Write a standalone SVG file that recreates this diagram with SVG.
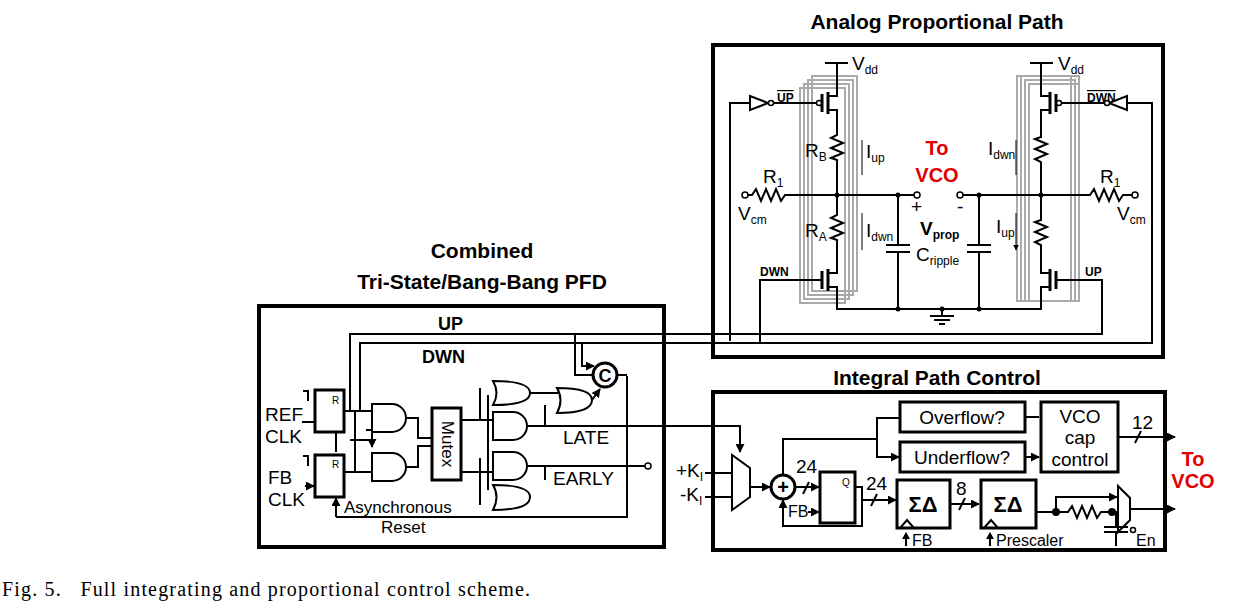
<svg xmlns="http://www.w3.org/2000/svg" width="1233" height="601" viewBox="0 0 1233 601">
<style>
text{font-family:"Liberation Sans",Arial,sans-serif;fill:#000}
.t{font-size:21px;font-weight:bold;text-anchor:middle}
.l{font-size:19px}
.s{font-size:12px}
.b{font-weight:bold}
.red{fill:#e00000;font-weight:bold;font-size:20px;text-anchor:middle}
.w{fill:none;stroke:#000;stroke-width:2}
.box{fill:none;stroke:#000;stroke-width:4}
.g{fill:#fff;stroke:#000;stroke-width:3}
.gr{fill:none;stroke:#aaa;stroke-width:2}
</style>
<defs>
<marker id="a" viewBox="0 0 10 10" refX="9" refY="5" markerWidth="9" markerHeight="9" markerUnits="userSpaceOnUse" orient="auto"><path d="M0,0L10,5L0,10z"/></marker>
<marker id="c" viewBox="0 0 10 10" refX="9" refY="5" markerWidth="6" markerHeight="6" markerUnits="userSpaceOnUse" orient="auto"><path d="M0,0L10,5L0,10z"/></marker>
</defs>
<rect width="1233" height="601" fill="#fff"/>

<g id="titles">
<text class="t" x="937" y="29">Analog Proportional Path</text>
<text class="t" x="482" y="258">Combined</text>
<text class="t" x="482" y="289">Tri-State/Bang-Bang PFD</text>
<text class="t" x="937" y="385">Integral Path Control</text>
<text x="2" y="596" xml:space="preserve" textLength="528" style="font-family:'Liberation Serif',serif;font-size:20px">Fig. 5.   Full integrating and proportional control scheme.</text>
</g>

<g id="analog">
<rect class="box" x="713" y="45" width="450" height="312"/>
<rect class="gr" x="800" y="88" width="45" height="215"/>
<rect class="gr" x="804" y="84" width="45" height="215"/>
<rect class="gr" x="808" y="80" width="45" height="215"/>
<rect class="gr" x="812" y="76" width="45" height="215"/>
<rect class="gr" x="1021" y="76" width="50" height="225"/>
<rect class="gr" x="1025" y="80" width="50" height="221"/>
<rect class="gr" x="1029" y="84" width="50" height="217"/>
<rect class="gr" x="1017" y="76" width="62" height="225"/>
<path class="w" d="M825,63H848M837,63V96H828M828,110H837V135l-6,3 12,5 -12,5 12,5 -12,5 6,2V215l-6,3 12,5 -12,5 12,5 -12,5 6,2V273H828M828,287H837V309H1041V287H1050M1050,273H1041V245l-6,-3 12,-5 -12,-5 12,-5 -12,-5 6,-2V195V162l-6,-3 12,-5 -12,-5 12,-5 -12,-5 6,-2V110H1050M1050,96H1041V63M1030,63H1053"/>
<path d="M828,92V114M822,94V112M828,269V291M822,271V289M1050,92V114M1056,94V112M1050,269V291M1056,271V289" stroke="#000" stroke-width="3"/>
<circle cx="819" cy="103" r="2.5" fill="#fff" stroke="#000" stroke-width="1.5"/>
<circle cx="1059" cy="103" r="2.5" fill="#fff" stroke="#000" stroke-width="1.5"/>
<path class="w" d="M817,103H773M750,96V110L768,103Z M730,341V103H750"/>
<circle cx="771" cy="103" r="2.5" fill="#fff" stroke="#000" stroke-width="1.5"/>
<path class="w" d="M822,280H760V344M1062,103H1105M1127,96V110L1109,103Z M1127,103H1152V344M1056,280H1102V335"/>
<circle cx="1107" cy="103" r="2.5" fill="#fff" stroke="#000" stroke-width="1.5"/>
<path class="w" d="M748,195l4,0 4,-6 5,12 5,-12 5,12 5,-12 5,12 4,-6H915M898,195V245M886,245H910M886,252H910M898,252V309M962,195H1041M979,195V245M967,245H991M967,252H991M979,252V309"/>
<path class="w" d="M1041,195H1090l4,-6 5,12 5,-12 5,12 5,-12 5,12 4,-6H1132"/>
<circle cx="745" cy="195" r="3" fill="#fff" stroke="#000" stroke-width="1.5"/>
<circle cx="917" cy="195" r="3" fill="#fff" stroke="#000" stroke-width="1.5"/>
<circle cx="960" cy="195" r="3" fill="#fff" stroke="#000" stroke-width="1.5"/>
<circle cx="1135" cy="195" r="3" fill="#fff" stroke="#000" stroke-width="1.5"/>
<circle cx="837" cy="195" r="2.5"/><circle cx="898" cy="195" r="2.5"/><circle cx="979" cy="195" r="2.5"/><circle cx="1041" cy="195" r="2.5"/>
<circle cx="898" cy="309" r="2.5"/><circle cx="979" cy="309" r="2.5"/><circle cx="942" cy="309" r="2.5"/>
<path class="w" d="M942,309V315M930,316H954M934,320H950M939,324H945"/>
<path d="M862,140V175M862,213V250M1016,140V175M1016,213V250" stroke="#000" stroke-width="1" marker-end="url(#c)"/>
<text class="l" x="852" y="70">V<tspan class="s" dy="4">dd</tspan></text>
<text class="l" x="1058" y="70">V<tspan class="s" dy="4">dd</tspan></text>
<text x="777" y="102" style="font-size:12px;font-weight:bold;text-decoration:overline">UP</text>
<text x="1087" y="102" style="font-size:12px;font-weight:bold;text-decoration:overline">DWN</text>
<text class="l" x="805" y="157">R<tspan class="s" dy="4">B</tspan></text>
<text class="l" x="805" y="237">R<tspan class="s" dy="4">A</tspan></text>
<text class="l" x="866" y="158">I<tspan class="s" dy="4">up</tspan></text>
<text class="l" x="866" y="237">I<tspan class="s" dy="4">dwn</tspan></text>
<text class="l" x="988" y="155">I<tspan class="s" dy="4">dwn</tspan></text>
<text class="l" x="996" y="233">I<tspan class="s" dy="4">up</tspan></text>
<text class="l" x="763" y="183">R<tspan class="s" dy="4">1</tspan></text>
<text class="l" x="1100" y="183">R<tspan class="s" dy="4">1</tspan></text>
<text class="l" x="738" y="220">V<tspan class="s" dy="4">cm</tspan></text>
<text class="l" x="1117" y="220">V<tspan class="s" dy="4">cm</tspan></text>
<text class="red" x="937" y="155">To</text>
<text class="red" x="937" y="182">VCO</text>
<text class="l" x="911" y="213">+</text>
<text class="l" x="957" y="213">-</text>
<text class="l b" x="920" y="235">V<tspan class="s b" dy="4">prop</tspan></text>
<text class="l" x="916" y="261">C<tspan class="s" dy="4">ripple</tspan></text>
<text class="s b" x="760" y="276">DWN</text>
<text class="s b" x="1085" y="276">UP</text>
</g>

<g id="pfd">
<rect class="box" x="259" y="306" width="405" height="241"/>
<rect class="g" x="315" y="390" width="29" height="42"/>
<rect class="g" x="315" y="455" width="29" height="42"/>
<text x="332" y="404" style="font-size:10px">R</text>
<text x="332" y="468" style="font-size:10px">R</text>
<text class="l" x="265" y="421">REF</text><text class="l" x="265" y="443">CLK</text>
<text class="l" x="268" y="484">FB</text><text class="l" x="268" y="506">CLK</text>
<path class="w" d="M303,391H308V401M303,456H308V466"/>
<path class="w" d="M302,422H314M305,486H314" marker-end="url(#a)"/>
<path class="w" d="M336,452V433M336,517V498" marker-end="url(#a)"/>
<path class="w" d="M336,517H627V376"/>
<path class="w" d="M350,411V334H1102M360,411V343H1152"/>
<path class="w" d="M344,411H372M344,472H372M355,411V472M350,440H372"/>
<path class="w" d="M372,404H392a14,14 0 0 1 0,28H372Z M372,453H392a14,14 0 0 1 0,28H372Z" fill="#fff"/>
<path class="w" d="M406,418H418V438H431M406,467H418V446H431M366,430H372V447" marker-end="url(#a)"/>
<rect class="g" x="432" y="408" width="29" height="72"/>
<text x="446" y="444" transform="rotate(90 446 444)" style="font-size:17px;text-anchor:middle;dominant-baseline:middle">Mutex</text>
<path class="w" d="M461,420H493M461,472H493M480,388V420M480,458V505M488,395V470M488,490V440"/>
<path class="w" d="M493,381Q530,381 530,393Q530,405 493,405Q500,393 493,381Z M493,485Q530,485 530,497Q530,510 493,510Q500,497 493,485Z M557,388Q592,388 592,400Q592,413 557,413Q564,400 557,388Z" fill="#fff"/>
<path class="w" d="M493,412H513a14,14 0 0 1 0,28H493Z M493,452H513a14,14 0 0 1 0,28H493Z" fill="#fff"/>
<path class="w" d="M530,393H558M527,426H740V447M527,466H648M545,405V426M545,466V480"/>
<path class="w" d="M592,400L600,389" marker-end="url(#a)"/>
<path class="w" d="M575,334V375H592M582,343V366H594" marker-end="url(#a)"/>
<circle cx="605" cy="375" r="12" class="g"/>
<text x="605" y="382" style="font-size:18px;font-weight:bold;text-anchor:middle">C</text>
<path class="w" d="M617,375H627"/>
<circle cx="648" cy="466" r="3" fill="#fff" stroke="#000" stroke-width="1.5"/>
<text class="l" x="563" y="444">LATE</text>
<text class="l" x="553" y="485">EARLY</text>
<text x="344" y="513" style="font-size:17px">Asynchronous</text>
<text x="381" y="533" style="font-size:17px">Reset</text>
<text class="b" x="438" y="330" style="font-size:18px">UP</text>
<text class="b" x="422" y="363" style="font-size:18px">DWN</text>
</g>

<g id="integral">
<rect class="box" x="713" y="392" width="452" height="158"/>
<path class="w" d="M732,455V510L750,497V468Z" fill="#fff" stroke-width="3"/>
<path class="w" d="M740,432V452" marker-end="url(#a)"/>
<path class="w" d="M705,473H731M705,497H731M750,487H770" marker-end="url(#a)"/>
<text class="l" x="676" y="477">+K<tspan class="s" dy="4">I</tspan></text>
<text class="l" x="680" y="501">-K<tspan class="s" dy="4">I</tspan></text>
<circle cx="783" cy="487" r="12" class="g"/>
<text x="783" y="494" style="font-size:20px;font-weight:bold;text-anchor:middle">+</text>
<path class="w" d="M795,487H819" marker-end="url(#a)"/>
<path class="w" d="M783,475V439H877V418H899M877,439V457H899" marker-end="url(#a)"/>
<path class="w" d="M803,494l6,-12"/>
<text class="l" x="796" y="473">24</text>
<rect class="g" x="820" y="472" width="35" height="51"/>
<text x="842" y="486" style="font-size:10px">Q</text>
<text x="788" y="517" style="font-size:16px">FB</text>
<path class="w" d="M808,512H819" marker-end="url(#a)"/>
<path class="w" d="M855,487H862V500H896" marker-end="url(#a)"/>
<path class="w" d="M862,500V526H783V500" marker-end="url(#a)"/>
<path class="w" d="M871,506l6,-12"/>
<text class="l" x="866" y="490">24</text>
<rect class="g" x="900" y="402" width="125" height="30"/>
<rect class="g" x="900" y="442" width="125" height="30"/>
<text class="l" x="962" y="424" text-anchor="middle">Overflow?</text>
<text class="l" x="962" y="464" text-anchor="middle">Underflow?</text>
<path class="w" d="M1025,417H1039M1025,457H1039" marker-end="url(#a)"/>
<rect class="g" x="1041" y="402" width="77" height="70"/>
<text class="l" x="1080" y="423" text-anchor="middle">VCO</text>
<text class="l" x="1080" y="444" text-anchor="middle">cap</text>
<text class="l" x="1080" y="466" text-anchor="middle">control</text>
<path class="w" d="M1118,437H1175" marker-end="url(#a)"/>
<path class="w" d="M1135,443l6,-12"/>
<text class="l" x="1132" y="429">12</text>
<rect class="g" x="897" y="480" width="53" height="48"/>
<rect class="g" x="981" y="480" width="55" height="48"/>
<text x="923" y="512" style="font-size:22px;font-weight:bold;text-anchor:middle">ΣΔ</text>
<text x="1008" y="512" style="font-size:22px;font-weight:bold;text-anchor:middle">ΣΔ</text>
<path class="w" d="M900,528L907,520L914,528M984,528L991,520L998,528"/>
<path class="w" d="M950,504H979" marker-end="url(#a)"/>
<path class="w" d="M959,510l6,-12"/>
<text class="l" x="956" y="495">8</text>
<path class="w" d="M906,546V538M990,546V538"/>
<path d="M902,539L906,532L910,539ZM986,539L990,532L994,539Z"/>
<text x="912" y="546" style="font-size:16px">FB</text>
<text x="996" y="546" style="font-size:16px">Prescaler</text>
<path class="w" d="M1036,512H1068l4,-6 5,12 5,-12 5,12 5,-12 5,12 4,-6H1116V527M1104,527H1128M1104,532H1128M1116,532V546"/>
<path class="w" d="M1056,512V497H1117" marker-end="url(#a)"/>
<circle cx="1056" cy="512" r="4"/><circle cx="1112" cy="512" r="4"/>
<path class="w" d="M1118,486V532L1130,520V498Z" stroke-width="3"/>
<path class="w" d="M1130,509H1175" marker-end="url(#a)"/>
<circle cx="1133" cy="530" r="2.5" fill="#fff" stroke="#000" stroke-width="1.5"/>
<text x="1136" y="546" style="font-size:16px">En</text>
<text class="red" x="1193" y="466">To</text>
<text class="red" x="1193" y="488">VCO</text>
</g>
</svg>
